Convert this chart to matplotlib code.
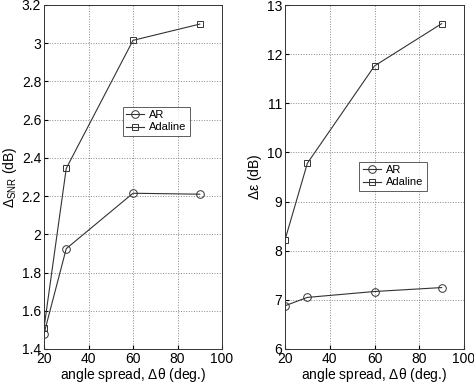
import matplotlib
matplotlib.use('Agg')
import matplotlib.pyplot as plt

plt.rcParams['font.family'] = ['Liberation Sans', 'DejaVu Sans']
plt.rcParams['mathtext.fontset'] = 'custom'
plt.rcParams['mathtext.rm'] = 'Liberation Sans'
plt.rcParams['mathtext.it'] = 'Liberation Sans'

# 数据
angles = [20, 30, 60, 90]
snr_ar = [1.48, 1.925, 2.215, 2.21]
snr_adaline = [1.51, 2.345, 3.015, 3.10]
err_ar = [6.88, 7.05, 7.17, 7.25]
err_adaline = [8.22, 9.78, 11.76, 12.62]

fig = plt.figure(figsize=(4.74, 3.87), dpi=100)
ax1 = fig.add_axes([44/474, 1-349/387, 178/474, 344/387])
ax2 = fig.add_axes([285/474, 1-349/387, 179/474, 344/387])

def draw(ax, ar, ada, ylim, yticks, ylabel, leg_pos):
    ax.plot(angles, ar, color='#333333', lw=0.8, marker='o', ms=5.5,
            mfc='none', mec='#333333', mew=0.7, label='AR')
    ax.plot(angles, ada, color='#333333', lw=0.8, marker='s', ms=4.5,
            mfc='none', mec='#333333', mew=0.7, label='Adaline')
    ax.set_xlim(20, 100)
    ax.set_ylim(*ylim)
    ax.set_xticks([20, 40, 60, 80, 100])
    ax.set_yticks(yticks)
    ax.grid(True, linestyle=':', color='#888888', lw=0.7)
    ax.tick_params(direction='in', labelsize=10, length=3, pad=2)
    for s in ax.spines.values():
        s.set_linewidth(0.7)
        s.set_color('#333333')
    ax.set_xlabel('angle spread, $\\Delta\\theta$ (deg.)', fontsize=10, labelpad=0)
    ax.set_ylabel(ylabel, fontsize=10, labelpad=2)
    leg = ax.legend(loc='upper left', bbox_to_anchor=leg_pos, fontsize=8,
                    frameon=True, fancybox=False, edgecolor='#333333',
                    handlelength=1.6, borderpad=0.3, labelspacing=0.2,
                    handletextpad=0.5)
    leg.get_frame().set_linewidth(0.7)

draw(ax1, snr_ar, snr_adaline, (1.4, 3.2),
     [1.4, 1.6, 1.8, 2, 2.2, 2.4, 2.6, 2.8, 3, 3.2],
     '$\\Delta_{\\mathrm{SNR}}$ (dB)', (0.41, 0.72))
ax1.set_yticklabels(['1.4', '1.6', '1.8', '2', '2.2', '2.4', '2.6', '2.8', '3', '3.2'])
draw(ax2, err_ar, err_adaline, (6, 13), [6, 7, 8, 9, 10, 11, 12, 13],
     '$\\Delta\\epsilon$ (dB)', (0.385, 0.56))

plt.savefig('out.png', dpi=100)
